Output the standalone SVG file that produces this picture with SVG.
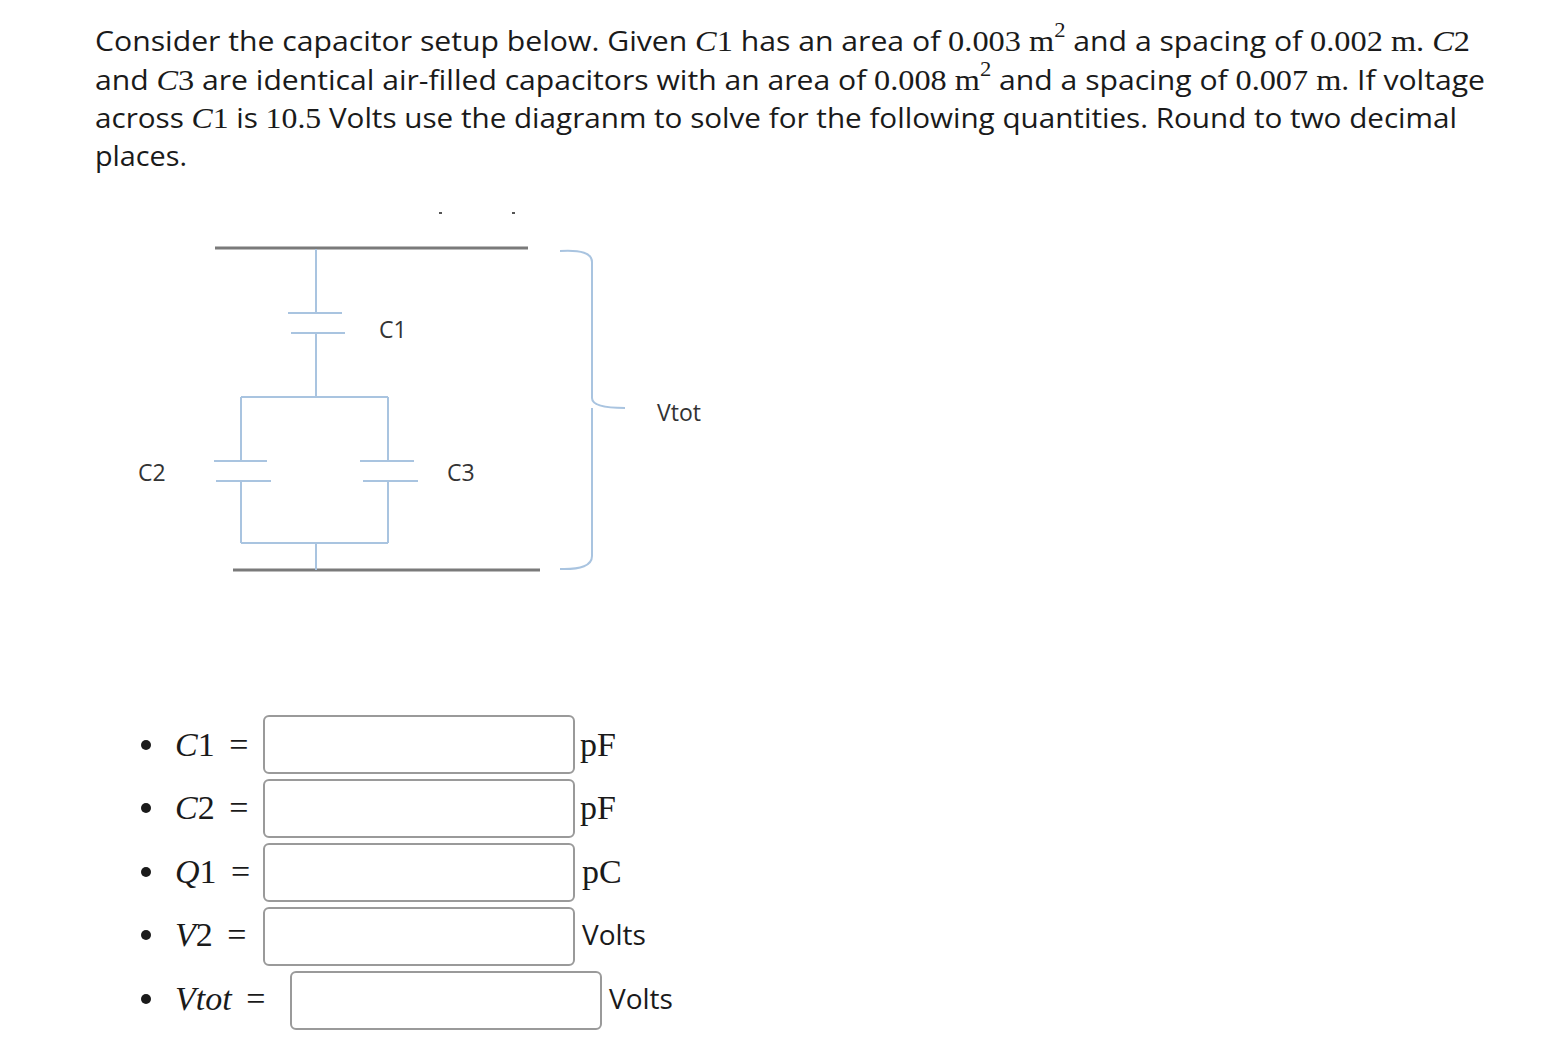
<svg xmlns="http://www.w3.org/2000/svg" width="1542" height="1061" viewBox="0 0 1542 1061">
<style>
.t{font-family:"Open Sans","Noto Sans",sans-serif;font-size:28px;fill:#1a1a1a;font-weight:500}
.m{font-family:"Liberation Serif",serif;font-size:30px;fill:#1a1a1a;font-weight:400}
.mi{font-family:"Liberation Serif",serif;font-style:italic;font-size:30px;fill:#1a1a1a;font-weight:400}
.sup{font-family:"Liberation Serif",serif;font-size:21px;font-weight:400}
.w{stroke:#a9c4e0;stroke-width:2;fill:none}
.g{stroke:#7a7a7a;stroke-width:3}
.lb{font-family:"Open Sans","Noto Sans",sans-serif;font-size:23px;fill:#333}
.box{fill:#fff;stroke:#9a9a9a;stroke-width:2}
.u{font-family:"Liberation Serif",serif;font-size:34px;fill:#1a1a1a}
.f{font-family:"Liberation Serif",serif;font-size:34px;fill:#1a1a1a}
.fi{font-style:italic}
</style>
<rect width="1542" height="1061" fill="#fff"/>
<text class="t" x="95" y="51" textLength="1375" lengthAdjust="spacingAndGlyphs">Consider the capacitor setup below. Given <tspan class="mi">C</tspan><tspan class="m">1</tspan> has an area of <tspan class="m">0.003 m</tspan><tspan class="sup" dy="-14">2</tspan><tspan dy="14"> and a spacing of </tspan><tspan class="m">0.002 m. </tspan><tspan class="mi">C</tspan><tspan class="m">2</tspan></text>
<text class="t" x="95" y="90" textLength="1390" lengthAdjust="spacingAndGlyphs">and <tspan class="mi">C</tspan><tspan class="m">3</tspan> are identical air-filled capacitors with an area of <tspan class="m">0.008 m</tspan><tspan class="sup" dy="-14">2</tspan><tspan dy="14"> and a spacing of </tspan><tspan class="m">0.007 m</tspan>. If voltage</text>
<text class="t" x="95" y="128" textLength="1362" lengthAdjust="spacingAndGlyphs">across <tspan class="mi">C</tspan><tspan class="m">1</tspan> is <tspan class="m">10.5</tspan> Volts use the diagranm to solve for the following quantities. Round to two decimal</text>
<text class="t" x="95" y="166" textLength="92" lengthAdjust="spacingAndGlyphs">places.</text>
<g id="ticks" stroke="#555" stroke-width="2"><line x1="439" y1="213" x2="442" y2="213"/><line x1="512" y1="213" x2="515" y2="213"/></g>
<g id="connectors">
<line class="g" x1="215" y1="248" x2="528" y2="248"/>
<line class="g" x1="233" y1="570" x2="540" y2="570"/>
<path class="w" d="M316 249V313M316 333V397M241 397H388M241 397V461M241 481V543M388 397V461M388 481V543M241 543H388M316 543V570"/>
<path class="w" d="M560 251Q592 249 592 262V398Q592 408 625 408M592 408Q592 412 592 420V556Q592 570 560 569"/>
</g>
<g id="C1"><path class="w" d="M288 313H342M291 333H345"/><text class="lb" x="379" y="338">C1</text></g>
<g id="C2"><path class="w" d="M214 461H267M216 481H271"/><text class="lb" x="138" y="481">C2</text></g>
<g id="C3"><path class="w" d="M360 461H414M363 481H418"/><text class="lb" x="447" y="481">C3</text></g>
<g id="Vtot"><text class="lb" x="657" y="421">Vtot</text></g>
<g id="form">
<circle cx="146" cy="745" r="5" fill="#1a1a1a"/><text class="f" x="175" y="756"><tspan class="fi">C</tspan>1 <tspan dx="6">=</tspan></text>
<rect class="box" x="264" y="716" width="310" height="57" rx="5"/><text class="u" x="580" y="756">pF</text>
<circle cx="146" cy="808" r="5" fill="#1a1a1a"/><text class="f" x="175" y="819"><tspan class="fi">C</tspan>2 <tspan dx="6">=</tspan></text>
<rect class="box" x="264" y="780" width="310" height="57" rx="5"/><text class="u" x="580" y="819">pF</text>
<circle cx="146" cy="872" r="5" fill="#1a1a1a"/><text class="f" x="175" y="883"><tspan class="fi">Q</tspan>1 <tspan dx="6">=</tspan></text>
<rect class="box" x="264" y="844" width="310" height="57" rx="5"/><text class="u" x="582" y="883">pC</text>
<circle cx="146" cy="935" r="5" fill="#1a1a1a"/><text class="f" x="175" y="946"><tspan class="fi">V</tspan>2 <tspan dx="6">=</tspan></text>
<rect class="box" x="264" y="908" width="310" height="57" rx="5"/><text class="t" x="582" y="945">Volts</text>
<circle cx="146" cy="999" r="5" fill="#1a1a1a"/><text class="f" x="175" y="1010"><tspan class="fi">Vtot</tspan> <tspan dx="6">=</tspan></text>
<rect class="box" x="291" y="972" width="310" height="57" rx="5"/><text class="t" x="609" y="1009">Volts</text>
</g>
</svg>
